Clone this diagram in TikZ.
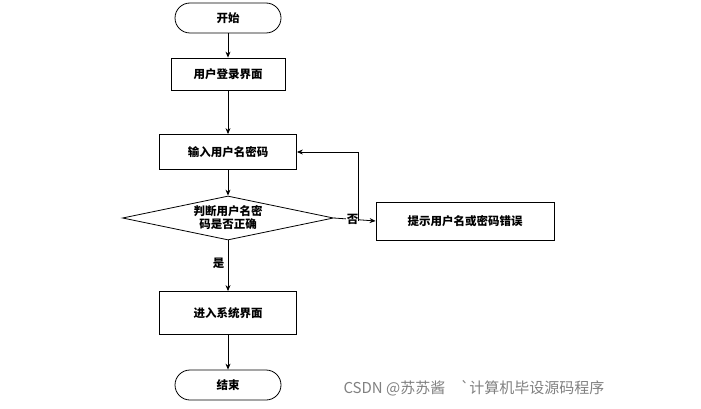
\documentclass[tikz,border=0pt]{standalone}
\usepackage{fontspec}
\setmainfont{Liberation Serif}
\newfontfamily\cjk{Noto Sans CJK SC}
\usetikzlibrary{shapes.geometric,arrows.meta}
\begin{document}
\begin{tikzpicture}[x=1pt,y=-1pt,
  every node/.style={font=\cjk\bfseries\fontsize{11.5}{13}\selectfont},
  box/.style={draw,thick,minimum height=32pt,inner sep=2pt},
  term/.style={draw,thick,rounded corners=15pt,minimum width=106pt,minimum height=30pt},
  arr/.style={draw,thick,-{Stealth[length=6pt,width=5pt]}}]
\useasboundingbox (0,0) rectangle (701,409);
\node[term] (start) at (228,18) {开始};
\node[box,minimum width=114pt] (login) at (228,74) {用户登录界面};
\node[box,minimum width=137pt,minimum height=35pt] (input) at (228,152) {输入用户名密码};
\node[diamond,draw,thick,aspect=4.9,minimum width=211pt,minimum height=44pt,inner sep=0pt,align=center] (judge) at (228,218) {判断用户名密\\码是否正确};
\node[box,minimum width=178pt,minimum height=38pt] (err) at (465,221) {提示用户名或密码错误};
\node[box,minimum width=137pt,minimum height=43pt] (enter) at (228,313) {进入系统界面};
\node[term] (end) at (228,385) {结束};
\coordinate (c1) at (358,221);
\coordinate (c2) at (358,152);
\path[arr] (start) -- (login);
\path[arr] (login) -- (input);
\path[arr] (input) -- (judge);
\path[arr] (judge) -- node[left,pos=0.45]{是} (enter);
\path[arr] (enter) -- (end);
\path[arr] (judge.east) -- node[pos=0.45,fill=white,inner sep=1pt]{否} (err.west |- c1);
\path[arr] (c1) -- (c2) -- (input.east);
\node[text=gray,font=\cjk\fontsize{15}{17}\selectfont,anchor=west] (wm) at (340,388) {CSDN @苏苏酱\quad `计算机毕设源码程序};
\end{tikzpicture}
\end{document}
